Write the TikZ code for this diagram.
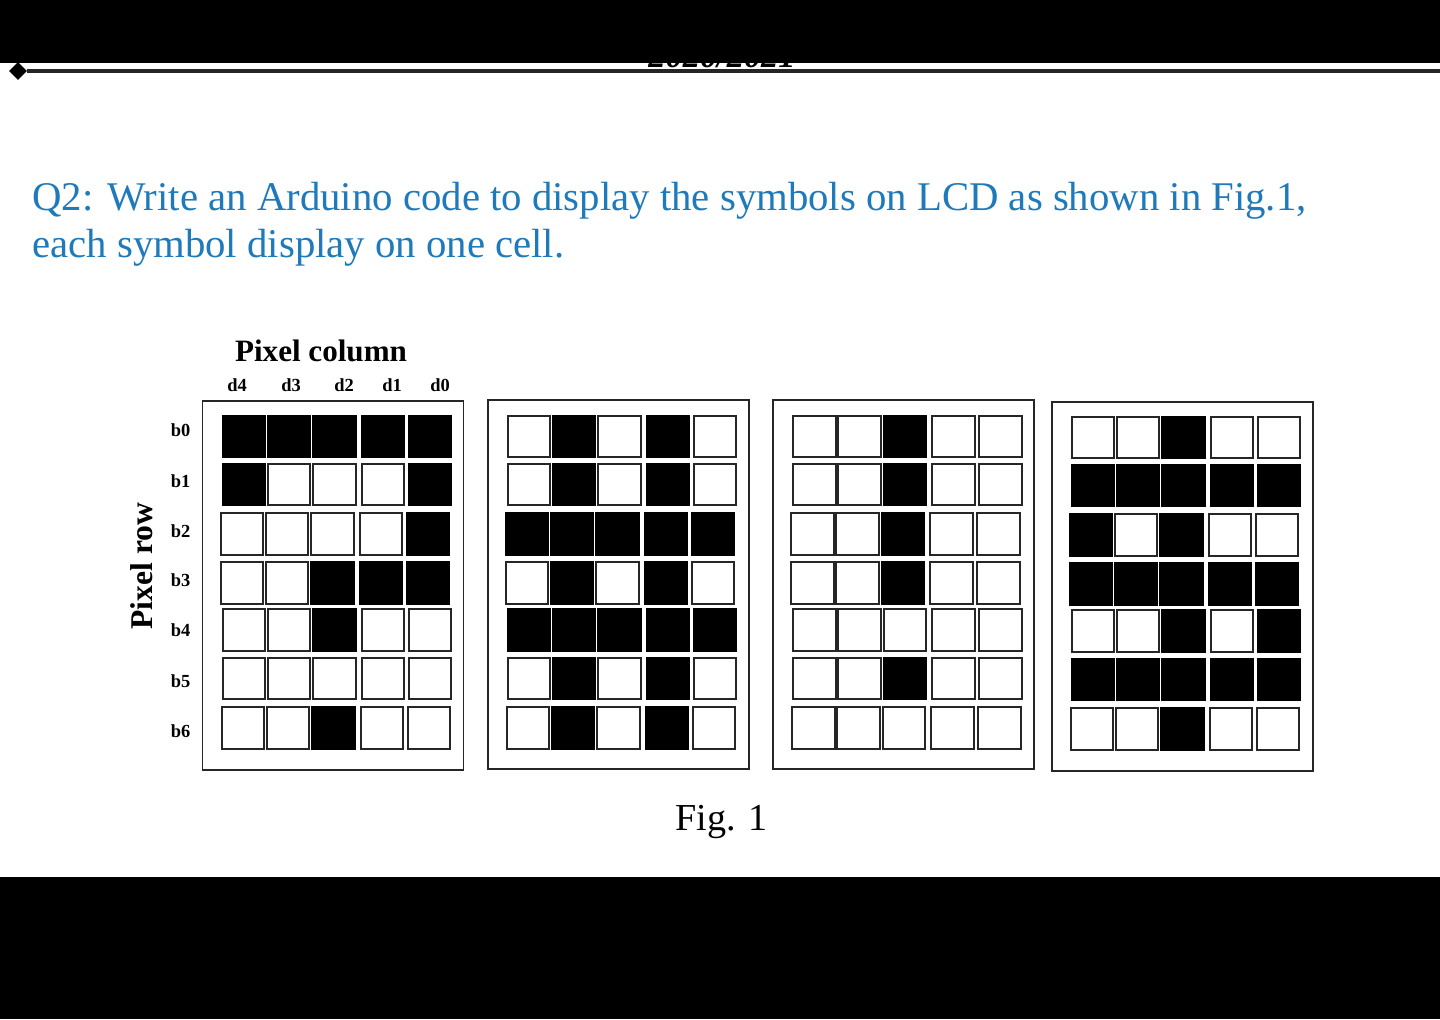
\documentclass[tikz,border=0pt]{standalone}
\usepackage{fontspec}
\setmainfont{Liberation Serif}
\usetikzlibrary{shapes.geometric}
\definecolor{qblue}{RGB}{30,122,186}
\tikzstyle{pix0} = [draw=black!85,fill=white,line width=1.1pt,inner sep=0pt,outer sep=0pt,minimum width=0.85cm,minimum height=0.83cm]
\tikzstyle{pix1} = [pix0,draw=black,fill=black]
\tikzstyle{panel} = [draw=black!85,line width=1.1pt,inner sep=0pt,outer sep=0pt,minimum width=5.22cm,minimum height=7.38cm]
\tikzstyle{band} = [fill=black,inner sep=0pt,outer sep=0pt,minimum width=28.8cm]
\tikzstyle{axis} = [font=\bfseries\fontsize{10.5}{12}\selectfont,inner sep=0pt]
\tikzstyle{line} = [draw,black!85,line width=2.2pt]

\begin{document}
\begin{tikzpicture}[x=0.02cm,y=-0.02cm]
	\useasboundingbox[fill=white] (0,0) rectangle (1440,1019);
	% header rule, the year is cut off by the top band
	\node (year) at (722,67) [anchor=base,inner sep=0pt,font=\bfseries\itshape\fontsize{19.6}{22}\selectfont] {2020/2021};
	\node (top) at (720,31.5) [band,minimum height=1.26cm] {};
	\node (bottom) at (720,948) [band,minimum height=2.84cm] {};
	\node (mark) at (18,71) [diamond,fill=black,inner sep=0pt,minimum width=0.36cm,minimum height=0.36cm] {};
	\coordinate (ruleend) at (1440,71);
	\path[line](mark) -- (ruleend);
	% question
	\node (q1) at (32,210) [anchor=base west,inner sep=0pt,text=qblue,font=\fontsize{23.2}{28}\selectfont] {Q2: Write an Arduino code to display the symbols on LCD as shown in Fig.1,};
	\node (q2) at (32,257) [anchor=base west,inner sep=0pt,text=qblue,font=\fontsize{23.2}{28}\selectfont] {each symbol display on one cell.};
	% panels
	\node (panel1) at (333,585.5) [panel] {};
	\node (panel2) at (618.5,584.5) [panel] {};
	\node (panel3) at (903.5,584.5) [panel] {};
	\node (panel4) at (1182.5,586.5) [panel] {};
	% pixels
	\foreach \pn/\px/\dy/\pat in {
		1/244/0/{{1,1,1,1,1},{1,0,0,0,1},{0,0,0,0,1},{0,0,1,1,1},{0,0,1,0,0},{0,0,0,0,0},{0,0,1,0,0}},
		2/529/0/{{0,1,0,1,0},{0,1,0,1,0},{1,1,1,1,1},{0,1,0,1,0},{1,1,1,1,1},{0,1,0,1,0},{0,1,0,1,0}},
		3/814.5/0/{{0,0,1,0,0},{0,0,1,0,0},{0,0,1,0,0},{0,0,1,0,0},{0,0,0,0,0},{0,0,1,0,0},{0,0,0,0,0}},
		4/1093/1/{{0,0,1,0,0},{1,1,1,1,1},{1,0,1,0,0},{1,1,1,1,1},{0,0,1,0,1},{1,1,1,1,1},{0,0,1,0,0}}}
	{
		\foreach \bits [count=\r] in \pat {
			\foreach \b [count=\c] in \bits {
				\pgfmathsetmacro{\cx}{\px+{0,45,90.5,139,186}[\c-1]+{0,0,-2,-2,0,0,-1}[\r-1]}
				\pgfmathsetmacro{\cy}{\dy+{436.5,484.5,534,583,630,678.5,728}[\r-1]}
				\node (p\pn r\r c\c) at (\cx,\cy) [pix\b] {};
			}
		}
	}
	% labels
	\node (coltitle) at (321,351) [font=\bfseries\fontsize{17.7}{20}\selectfont,inner sep=0pt] {Pixel column};
	\node (rowtitle) at (142,566) [rotate=90,font=\bfseries\fontsize{18}{20}\selectfont,inner sep=0pt] {Pixel row};
	\foreach \t/\x in {d4/237,d3/291,d2/344,d1/392,d0/440}
		\node (\t) at (\x,385) [axis] {\t};
	\foreach \t/\y in {b0/430,b1/481,b2/531,b3/580,b4/630,b5/681,b6/731}
		\node (\t) at (180.5,\y) [axis] {\t};
	\node (fig) at (721.5,822) [font=\fontsize{21.7}{26}\selectfont,inner sep=0pt] {Fig. 1};
\end{tikzpicture}
\end{document}
